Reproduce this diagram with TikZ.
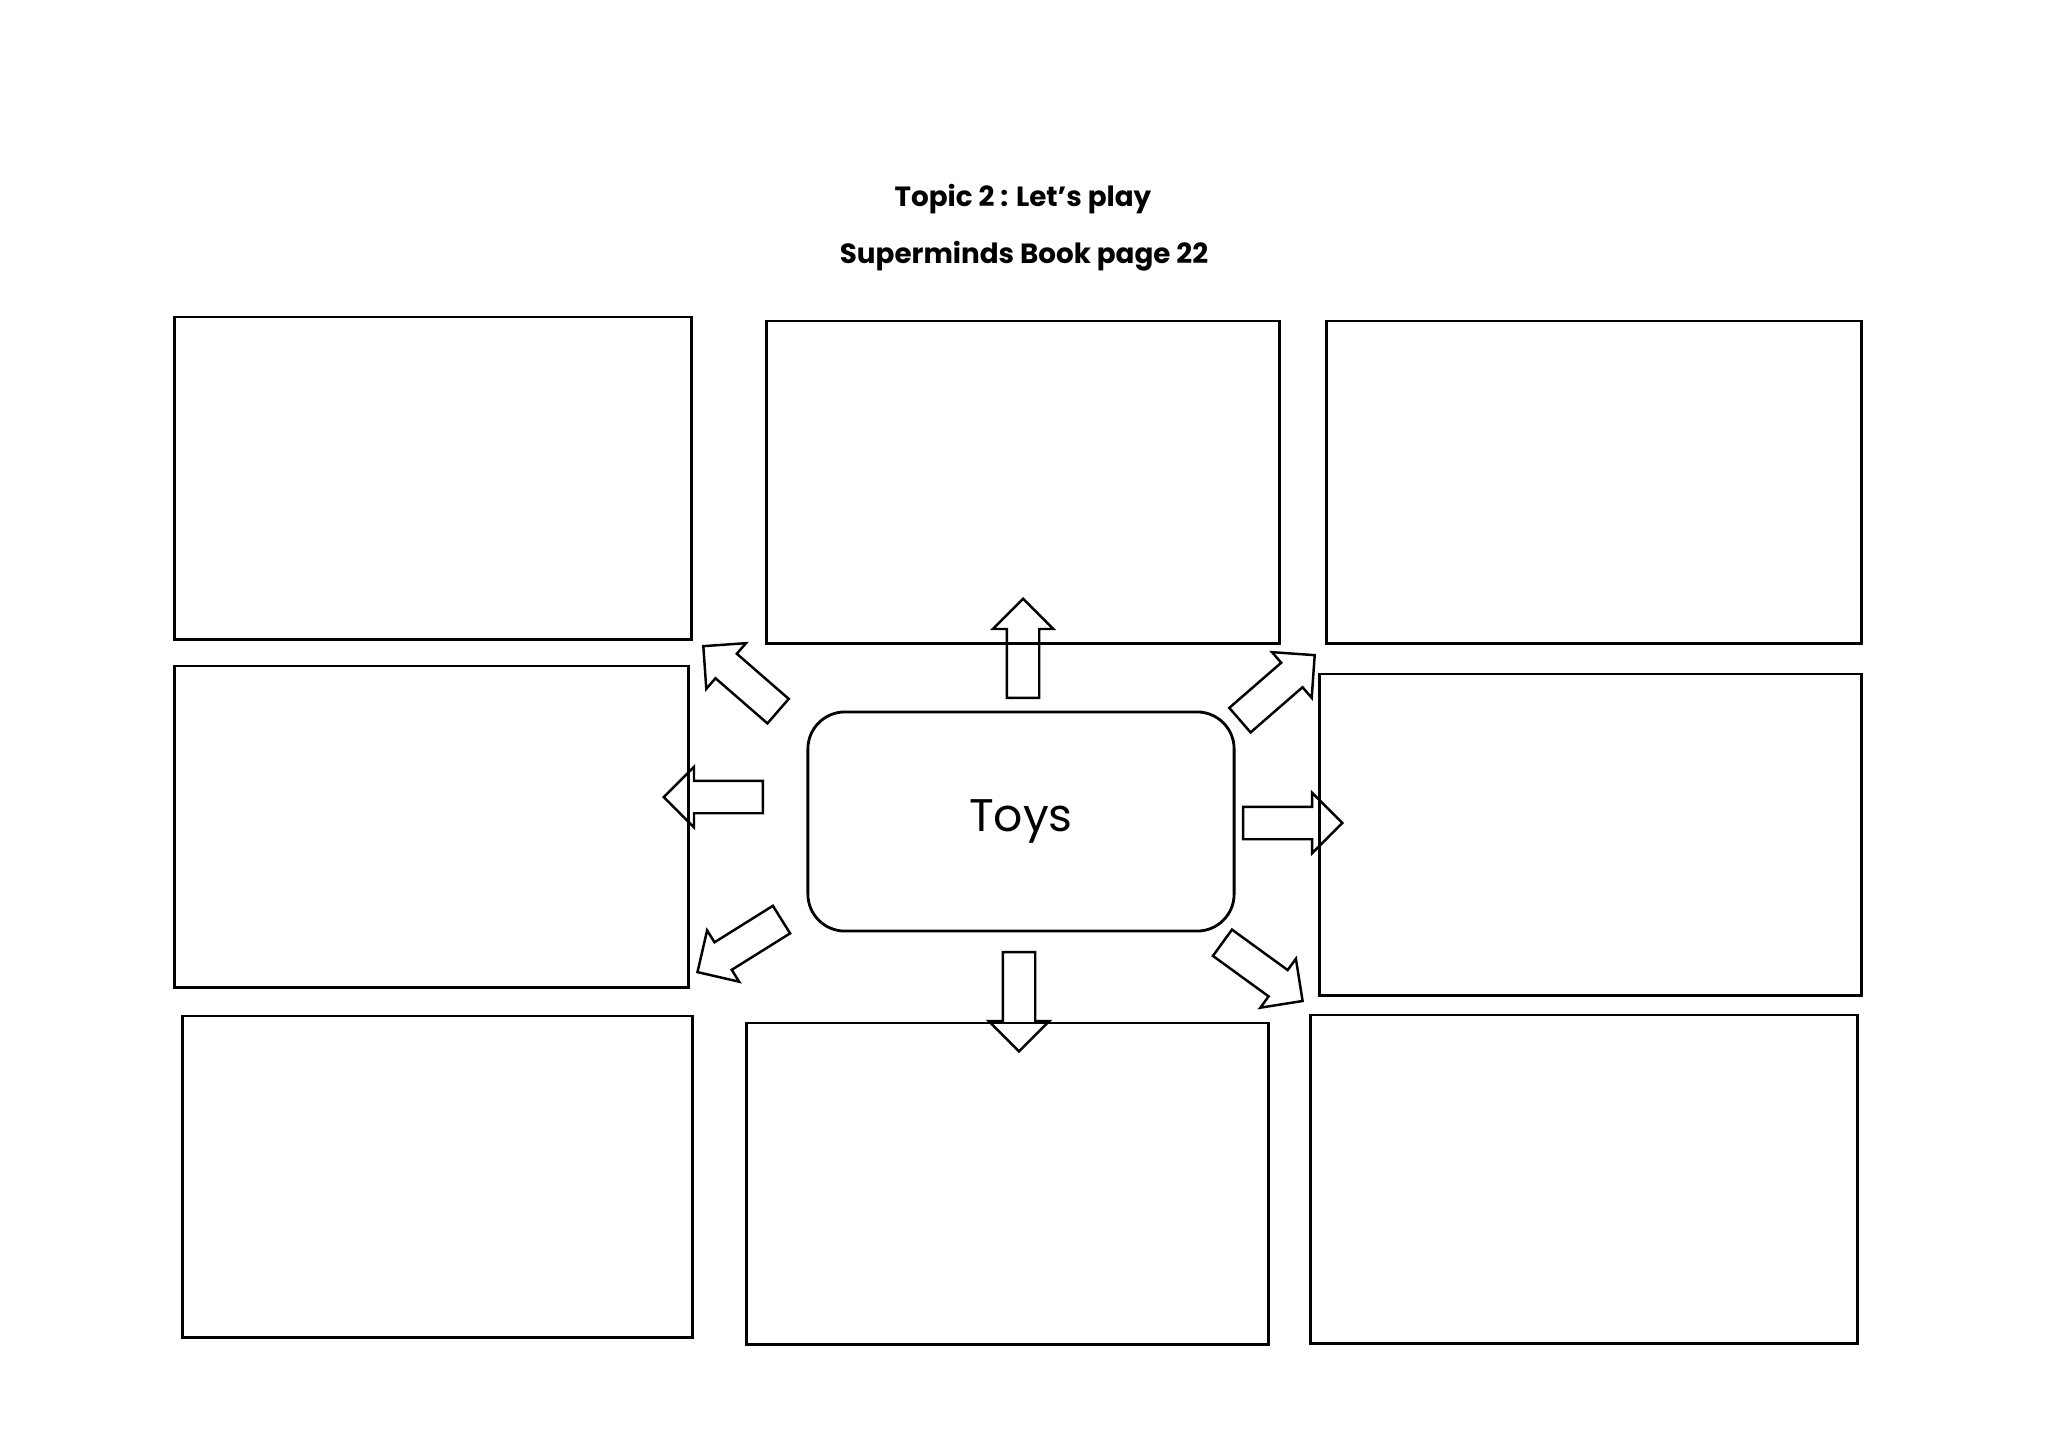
\documentclass[tikz,border=0pt]{standalone}
\usepackage{fontspec}
\setmainfont{Poppins}
\usepackage{tikz}
\usetikzlibrary{shapes.arrows, positioning}

\begin{document}
\begin{tikzpicture}[
  x=0.01cm, y=-0.01cm,
  box/.style={rectangle, draw, line width=0.8pt, inner sep=0pt},
  hub/.style={rectangle, rounded corners=0.37cm, draw, line width=0.8pt,
              minimum width=4.26cm, minimum height=2.19cm, font=\fontsize{13}{15}\selectfont},
  blockarr/.style={single arrow, draw, line width=0.7pt, inner sep=0pt,
                   text height=0.3cm, text depth=0pt, text width=0pt,
                   minimum height=0.99cm, anchor=tip,
                   single arrow head extend=0.14cm, single arrow head indent=0pt},
  ttl/.style={font=\fontsize{7.9}{9.5}\selectfont\bfseries},
]
\useasboundingbox (0,0) rectangle (2048,1448);

% title
\node[ttl] (topic) at (1023,199) {Topic 2 : Let’s play};
\node[ttl] (book) at (1024,256) {Superminds Book page 22};

% empty answer boxes
\node[box, minimum width=5.16cm, minimum height=3.22cm] (tl) at (433,478) {};
\node[box, minimum width=5.12cm, minimum height=3.22cm] (tm) at (1023,482) {};
\node[box, minimum width=5.34cm, minimum height=3.22cm] (tr) at (1594,482) {};
\node[box, minimum width=5.13cm, minimum height=3.21cm] (ml) at (431.5,826.5) {};
\node[box, minimum width=5.41cm, minimum height=3.21cm] (mr) at (1590.5,834.5) {};
\node[box, minimum width=5.09cm, minimum height=3.21cm] (bl) at (437.5,1176.5) {};
\node[box, minimum width=5.21cm, minimum height=3.21cm] (bm) at (1007.5,1183.5) {};
\node[box, minimum width=5.46cm, minimum height=3.28cm] (br) at (1584,1179) {};

% centre
\node[hub] (toys) at (1021,821.5) {Toys};

% block arrows round the centre (placed by their tips)
\node[blockarr, rotate=90] (aup) at (1023,597) {};
\node[blockarr, rotate=-90] (adown) at (1019,1053) {};
\node[blockarr, rotate=180] (aleft) at (662,797) {};
\node[blockarr, rotate=0] (aright) at (1344,823) {};
\node[blockarr, rotate=139] (aupleft) at (702,645) {};
\node[blockarr, rotate=212] (adownleft) at (696,973) {};
\node[blockarr, rotate=41] (aupright) at (1316,654) {};
\node[blockarr, rotate=-36] (adownright) at (1304,1002) {};

\end{tikzpicture}
\end{document}
